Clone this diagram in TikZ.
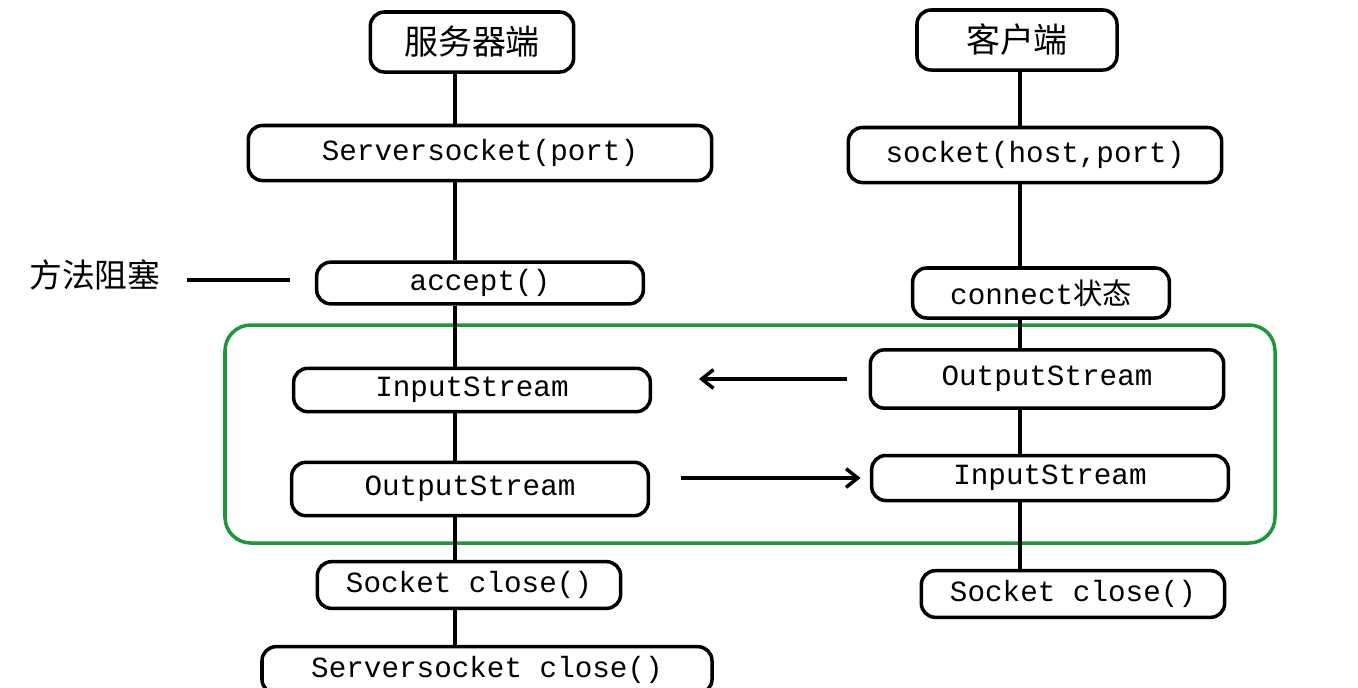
\documentclass[tikz,border=0pt]{standalone}
\usepackage{fontspec}
\setmainfont{Liberation Mono}
\newfontfamily\cjk{Noto Sans CJK SC}
\usetikzlibrary{arrows.meta}
\tikzset{
  box/.style={draw, line width=3pt, rounded corners=12pt, inner sep=0pt,
    font=\fontsize{25}{30}\selectfont},
  link/.style={line width=3pt},
  flow/.style={line width=3pt, -{Straight Barb[length=10pt,width=16pt]}},
}
\begin{document}
\begin{tikzpicture}[x=0.03cm,y=-0.03cm]
	\useasboundingbox (0,0) rectangle (1358,687);
	% server side
	\node[box, minimum width=6.1cm, minimum height=1.8cm, font=\cjk\fontsize{29}{32}\selectfont] (srv) at (472,42) {服务器端};
	\node[box, minimum width=13.9cm, minimum height=1.65cm] (ssock) at (480,153) {Serversocket(port)};
	\node[box, minimum width=9.8cm, minimum height=1.25cm] (accept) at (480,283) {accept()};
	\node[box, minimum width=10.7cm, minimum height=1.3cm] (sin) at (472,390) {InputStream};
	\node[box, minimum width=10.7cm, minimum height=1.6cm] (sout) at (470,489) {OutputStream};
	\node[box, minimum width=9.1cm, minimum height=1.4cm] (sclose) at (469,585) {Socket close()};
	\node[box, minimum width=13.5cm, minimum height=1.4cm] (ssclose) at (487,670) {Serversocket close()};
	% client side
	\node[box, minimum width=6cm, minimum height=1.8cm, font=\cjk\fontsize{29}{32}\selectfont] (cli) at (1017,40) {客户端};
	\node[box, minimum width=11.2cm, minimum height=1.65cm] (csock) at (1035,155) {socket(host,port)};
	\node[box, minimum width=7.7cm, minimum height=1.5cm] (conn) at (1041,293) {connect{\cjk 状态}};
	\node[box, minimum width=10.6cm, minimum height=1.75cm] (cout) at (1047,379) {OutputStream};
	\node[box, minimum width=10.7cm, minimum height=1.35cm] (cin) at (1050,478) {InputStream};
	\node[box, minimum width=9.1cm, minimum height=1.4cm] (cclose) at (1073,594) {Socket close()};
	% blocking note
	\node[font=\cjk\fontsize{28}{32}\selectfont] (note) at (95,275) {方法阻塞};
	\coordinate (noteend) at (290,280);
	\draw[link] (187,280) -- (noteend);
	% green frame
	\draw[line width=3pt, draw={rgb,255:red,30;green,150;blue,60}, rounded corners=22pt]
		(225,325) rectangle (1275,543);
	% vertical links
	\foreach \a/\b in {srv/ssock, ssock/accept, accept/sin, sin/sout, sout/sclose, sclose/ssclose}
		\draw[link] (\a.south -| 455,0) -- (\b.north -| 455,0);
	\foreach \a/\b in {cli/csock, csock/conn, conn/cout, cout/cin, cin/cclose}
		\draw[link] (\a.south -| 1020,0) -- (\b.north -| 1020,0);
	% data flow
	\draw[flow] ([xshift=-18pt]cout.west) -- ([xshift=40pt]sin.east |- cout.west);
	\draw[flow] ([xshift=26pt]sout.east |- cin.west) -- ([xshift=-8pt]cin.west);
\end{tikzpicture}
\end{document}
